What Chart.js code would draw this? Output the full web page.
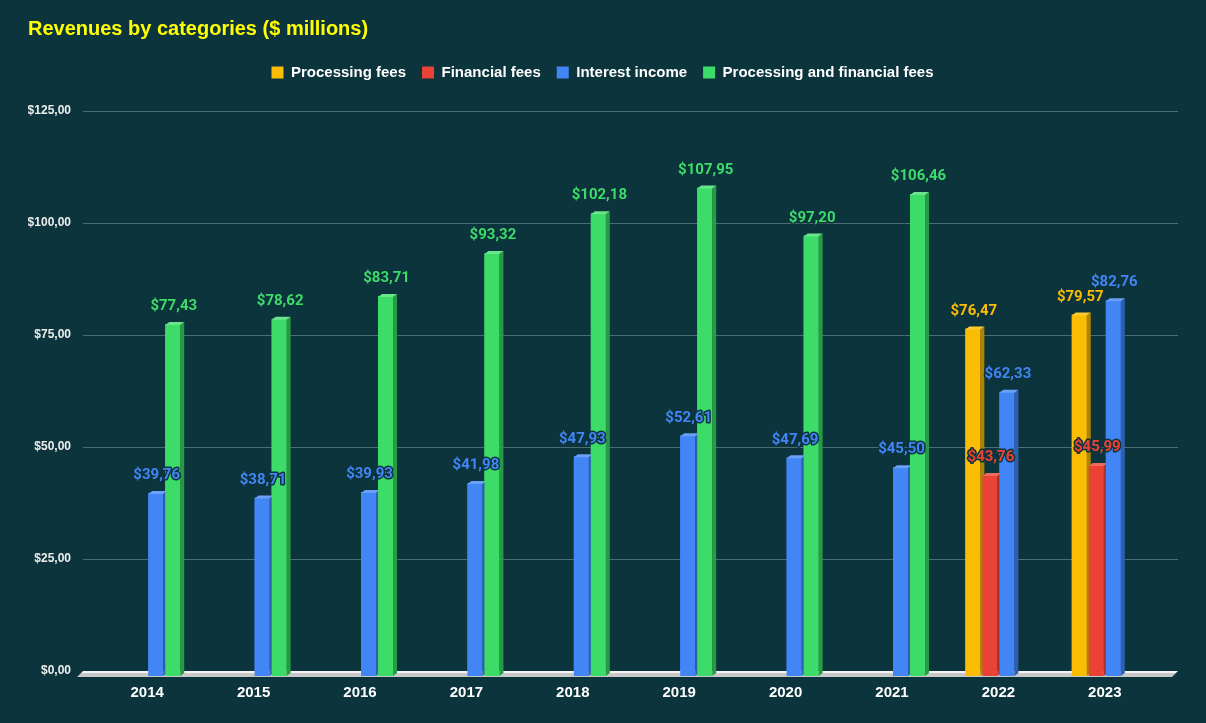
<!DOCTYPE html>
<html><head><meta charset="utf-8">
<script src="https://cdn.jsdelivr.net/npm/chart.js@4.4.1/dist/chart.umd.min.js"></script>
<style>html,body{margin:0;padding:0;background:#0c343d;overflow:hidden}canvas{display:block}</style>
</head><body><canvas id="c" width="1206" height="723"></canvas>
<script>
const categories = ['2014','2015','2016','2017','2018','2019','2020','2021','2022','2023'];
const processingFees = [null,null,null,null,null,null,null,null,76.47,79.57];
const financialFees = [null,null,null,null,null,null,null,null,43.76,45.99];
const interestIncome = [39.76,38.71,39.93,41.98,47.93,52.61,47.69,45.50,62.33,82.76];
const processingAndFinancialFees = [77.43,78.62,83.71,93.32,102.18,107.95,97.20,106.46,null,null];
const seriesNames = ['Processing fees','Financial fees','Interest income','Processing and financial fees'];
const yTicks = [0,25,50,75,100,125];

const BG = '#0c343d';
const COLORS = ['#fbbc04','#ea4335','#4285f4','#3ddc68'];
const SIDE = ['#b08400','#a8302a','#2f5fae','#279a45'];
const TOPC = ['#fcc933','#ef6a5d','#6aa0f6','#6ae58c'];
const GRID = '#4d6d73';
const DX = 4, DY = 3;
const FONT = '"Liberation Sans", Arial, sans-serif';

const fmt = v => '$' + v.toFixed(2).replace('.', ',');

function poly(ctx, pts, color){
  ctx.fillStyle = color; ctx.beginPath();
  ctx.moveTo(pts[0][0], pts[0][1]);
  for (let i=1;i<pts.length;i++) ctx.lineTo(pts[i][0], pts[i][1]);
  ctx.closePath(); ctx.fill();
}

const bars3d = {
  id: 'bars3d',
  beforeDatasetsDraw(chart){
    const {ctx, chartArea: a, scales: {y}} = chart;
    ctx.save();
    ctx.strokeStyle = GRID; ctx.lineWidth = 1;
    yTicks.forEach(v => {
      if (v === 0) return;
      const py = Math.round(y.getPixelForValue(v)) + 0.5;
      ctx.beginPath(); ctx.moveTo(a.left - 11, py); ctx.lineTo(a.right + 20, py); ctx.stroke();
    });
    const z = y.getPixelForValue(0);
    const L = a.left - 17, R = a.right + 20;
    poly(ctx, [[L+4, z+2],[R-2, z+2],[R-6, z+6],[L, z+6]], '#c8c8c8');
    poly(ctx, [[L+6, z],[R, z],[R-2, z+2],[L+4, z+2]], '#f4f4f4');
    ctx.restore();
  },
  afterDatasetsDraw(chart){
    const ctx = chart.ctx;
    ctx.save();
    chart.data.datasets.forEach((ds, i) => {
      const meta = chart.getDatasetMeta(i);
      meta.data.forEach((bar, j) => {
        if (ds.data[j] == null) return;
        const p = bar.getProps(['x','y','width','base'], true);
        const l = p.x - p.width/2, r = p.x + p.width/2, t = p.y + 1, b = p.base + 5;
        poly(ctx, [[l,t],[r,t],[r,b],[l,b]], COLORS[i]);
        poly(ctx, [[r,t],[r+DX,t-DY],[r+DX,b-DY],[r,b]], SIDE[i]);
        poly(ctx, [[l,t],[r,t],[r+DX,t-DY],[l+DX,t-DY]], TOPC[i]);
      });
    });
    ctx.font = 'bold 15px Roboto';
    ctx.textAlign = 'center'; ctx.textBaseline = 'middle';
    ctx.lineJoin = 'round'; ctx.lineWidth = 3; ctx.strokeStyle = BG;
    chart.data.datasets.forEach((ds, i) => {
      const meta = chart.getDatasetMeta(i);
      meta.data.forEach((bar, j) => {
        const v = ds.data[j];
        if (v == null) return;
        const p = bar.getProps(['x','y'], true);
        const tx = p.x + 1, ty = p.y - 17.5;
        ctx.strokeText(fmt(v), tx, ty);
        ctx.fillStyle = COLORS[i];
        ctx.fillText(fmt(v), tx, ty);
      });
    });
    ctx.restore();
  }
};

const seriesData = [processingFees, financialFees, interestIncome, processingAndFinancialFees];

new Chart(document.getElementById('c'), {
  type: 'bar',
  data: {
    labels: categories,
    datasets: seriesData.map((d, i) => ({
      label: seriesNames[i],
      data: d,
      backgroundColor: COLORS[i],
      borderWidth: 0,
      categoryPercentage: 0.64,
      barPercentage: 0.88
    }))
  },
  options: {
    responsive: false,
    devicePixelRatio: 1,
    animation: false,
    layout: { padding: { left: 28, right: 29, top: 0, bottom: 0 } },
    plugins: {
      tooltip: { enabled: false },
      title: {
        display: true, text: 'Revenues by categories ($ millions)', align: 'start',
        color: '#ffff00',
        font: { family: FONT, size: 20, weight: 'bold', lineHeight: 1.2 },
        padding: { top: 17, bottom: 8 }
      },
      subtitle: {
        display: true, text: '', weight: 500, padding: 0,
        font: { size: 10, lineHeight: 2.1 }
      },
      legend: {
        position: 'top', align: 'center',
        labels: {
          color: '#ffffff', boxWidth: 12, boxHeight: 12, padding: 16,
          font: { family: FONT, size: 15, weight: 'bold' }
        }
      }
    },
    scales: {
      x: {
        grid: { display: false, drawTicks: false }, border: { display: false },
        ticks: { color: '#ffffff', padding: 13, font: { family: FONT, size: 15, weight: 'bold' } },
        afterFit: s => { s.height = 52; }
      },
      y: {
        min: 0, max: 125,
        grid: { display: false, drawTicks: false }, border: { display: false },
        afterBuildTicks: s => { s.ticks = yTicks.map(v => ({ value: v })); },
        ticks: { color: '#eeeeee', padding: 23, callback: v => fmt(v), font: { family: FONT, size: 12, weight: 'bold' } },
        afterFit: s => { s.width = 66; }
      },
      yRight: {
        position: 'right', display: true,
        grid: { display: false, drawTicks: false }, border: { display: false },
        ticks: { display: false },
        afterFit: s => { s.width = 19; }
      }
    }
  },
  plugins: [bars3d]
});
</script>
</body></html>
